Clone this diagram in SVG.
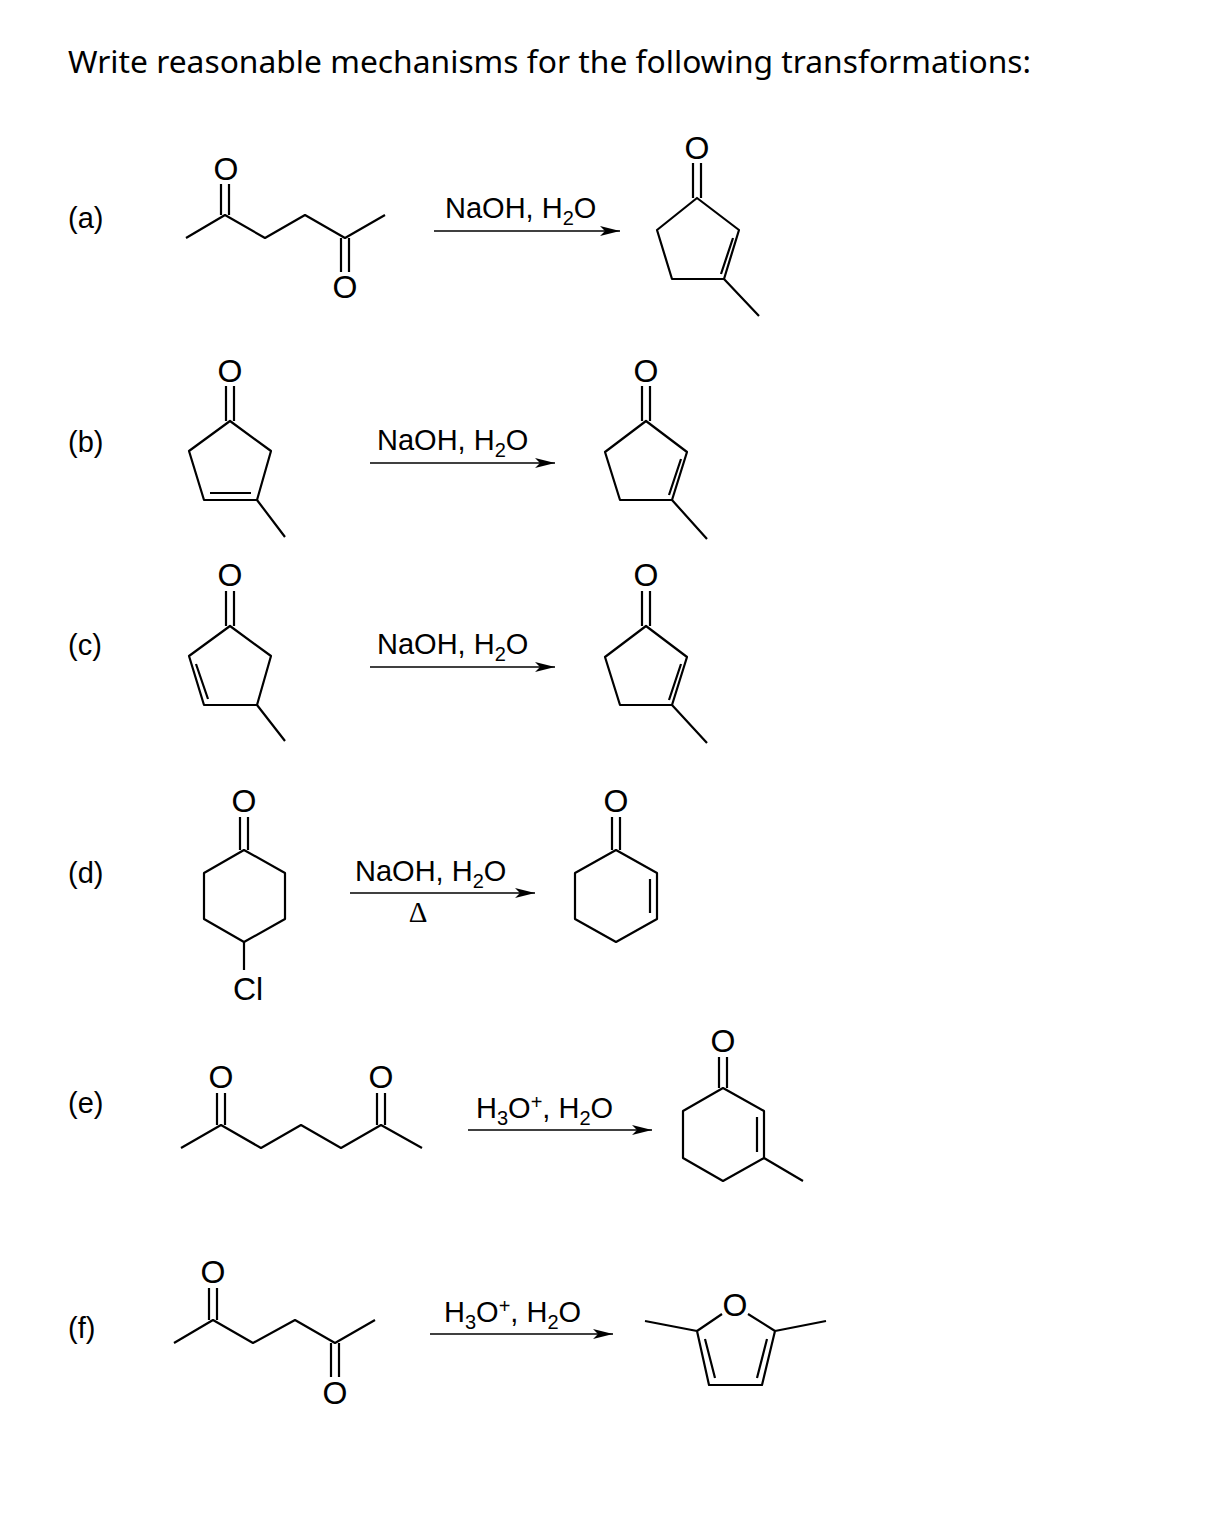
<svg xmlns="http://www.w3.org/2000/svg" width="1220" height="1520" viewBox="0 0 1220 1520">
<defs>
<style>
.b{fill:none;stroke:#000;stroke-width:2.2;stroke-linejoin:round}
.t{font-family:"Liberation Sans",Arial,sans-serif;font-size:29px;fill:#000}
.o{font-family:"Liberation Sans",Arial,sans-serif;font-size:32px;fill:#000;text-anchor:middle}
.a{fill:none;stroke:#000;stroke-width:1.5}
</style>
<marker id="ah" viewBox="0 0 20 10" refX="20" refY="5" markerWidth="20" markerHeight="10" markerUnits="userSpaceOnUse" orient="auto"><path d="M0,0 L20,5 L0,10 L5,5 z" fill="#000"/></marker>
</defs>
<rect width="1220" height="1520" fill="#fff"/>
<text x="68" y="73" font-family="Noto Sans,sans-serif" font-size="30" textLength="963" lengthAdjust="spacingAndGlyphs">Write reasonable mechanisms for the following transformations:</text>
<g id="labels" class="t">
<text x="68" y="228">(a)</text><text x="68" y="452">(b)</text><text x="68" y="655">(c)</text><text x="68" y="883">(d)</text><text x="68" y="1113">(e)</text><text x="68" y="1338">(f)</text>
</g>
<g id="connectors">
<line class="a" x1="434" y1="231" x2="620" y2="231" marker-end="url(#ah)"/>
<line class="a" x1="370" y1="463" x2="555" y2="463" marker-end="url(#ah)"/>
<line class="a" x1="370" y1="667" x2="555" y2="667" marker-end="url(#ah)"/>
<line class="a" x1="350" y1="893" x2="535" y2="893" marker-end="url(#ah)"/>
<line class="a" x1="468" y1="1130" x2="652" y2="1130" marker-end="url(#ah)"/>
<line class="a" x1="430" y1="1334" x2="613" y2="1334" marker-end="url(#ah)"/>
</g>
<g id="conditions" class="t">
<text x="445" y="218">NaOH, H<tspan font-size="20" dy="7">2</tspan><tspan dy="-7">O</tspan></text>
<text x="377" y="450">NaOH, H<tspan font-size="20" dy="7">2</tspan><tspan dy="-7">O</tspan></text>
<text x="377" y="654">NaOH, H<tspan font-size="20" dy="7">2</tspan><tspan dy="-7">O</tspan></text>
<text x="355" y="881">NaOH, H<tspan font-size="20" dy="7">2</tspan><tspan dy="-7">O</tspan></text>
<text x="418" y="922" font-family="Liberation Serif,serif" text-anchor="middle">Δ</text>
<text x="476" y="1118">H<tspan font-size="20" dy="7">3</tspan><tspan dy="-7">O</tspan><tspan font-size="20" dy="-9">+</tspan><tspan dy="9">, H</tspan><tspan font-size="20" dy="7">2</tspan><tspan dy="-7">O</tspan></text>
<text x="444" y="1322">H<tspan font-size="20" dy="7">3</tspan><tspan dy="-7">O</tspan><tspan font-size="20" dy="-9">+</tspan><tspan dy="9">, H</tspan><tspan font-size="20" dy="7">2</tspan><tspan dy="-7">O</tspan></text>
</g>
<g id="a-reactant">
<polyline class="b" points="186,238 225,215 265,238 305,215 345,238 385,215"/>
<path class="b" d="M221,215V184M229,215V184M341,238V272M349,238V272"/>
<text class="o" x="226" y="180">O</text><text class="o" x="345" y="298">O</text>
</g>
<g id="a-product">
<polygon class="b" points="697,198 739,230 724,279 672,279 657,230"/>
<path class="b" d="M733,238L721,274M759,316L724,279M693,198V163M701,198V163"/>
<text class="o" x="697" y="159">O</text>
</g>
<g id="b-reactant">
<polygon class="b" points="230,421 271,451 257,500 204,500 189,451"/>
<path class="b" d="M210,493H251M285,537L257,500M226,421V386M234,421V386"/>
<text class="o" x="230" y="382">O</text>
</g>
<g id="b-product">
<polygon class="b" points="646,421 687,452 672,500 620,500 605,452"/>
<path class="b" d="M681,459L669,495M707,539L672,500M642,421V386M650,421V386"/>
<text class="o" x="646" y="382">O</text>
</g>
<g id="c-reactant">
<polygon class="b" points="230,626 271,656 257,705 204,705 189,656"/>
<path class="b" d="M196,664L208,699M285,741L257,705M226,626V591M234,626V591"/>
<text class="o" x="230" y="586">O</text>
</g>
<g id="c-product">
<polygon class="b" points="646,626 687,657 672,705 620,705 605,657"/>
<path class="b" d="M681,664L669,700M707,743L672,705M642,626V591M650,626V591"/>
<text class="o" x="646" y="586">O</text>
</g>
<g id="d-reactant">
<polygon class="b" points="244,850 285,873 285,919 244,942 204,919 204,873"/>
<path class="b" d="M244,942V970M240,850V817M248,850V817"/>
<text class="o" x="244" y="812">O</text>
<text class="o" x="248" y="1000" font-size="29">Cl</text>
</g>
<g id="d-product">
<polygon class="b" points="616,850 657,873 657,919 616,942 575,919 575,873"/>
<path class="b" d="M650,879V913M612,850V817M620,850V817"/>
<text class="o" x="616" y="812">O</text>
</g>
<g id="e-reactant">
<polyline class="b" points="181,1148 221,1125 261,1148 301,1125 341,1148 381,1125 422,1148"/>
<path class="b" d="M217,1125V1093M225,1125V1093M377,1125V1093M385,1125V1093"/>
<text class="o" x="221" y="1088">O</text><text class="o" x="381" y="1088">O</text>
</g>
<g id="e-product">
<polygon class="b" points="723,1088 764,1111 764,1158 723,1181 683,1158 683,1111"/>
<path class="b" d="M757,1117V1152M764,1158L803,1181M719,1088V1057M727,1088V1057"/>
<text class="o" x="723" y="1052">O</text>
</g>
<g id="f-reactant">
<polyline class="b" points="174,1343 213,1320 253,1343 295,1320 335,1343 375,1320"/>
<path class="b" d="M209,1320V1288M217,1320V1288M331,1343V1377M339,1343V1377"/>
<text class="o" x="213" y="1283">O</text><text class="o" x="335" y="1404">O</text>
</g>
<g id="f-product">
<path class="b" d="M722,1314L697,1331L709,1385H762L775,1331L748,1314M705,1339L715,1378M767,1339L757,1378M697,1331L645,1321M775,1331L826,1321"/>
<text class="o" x="735" y="1316">O</text>
</g>
</svg>
